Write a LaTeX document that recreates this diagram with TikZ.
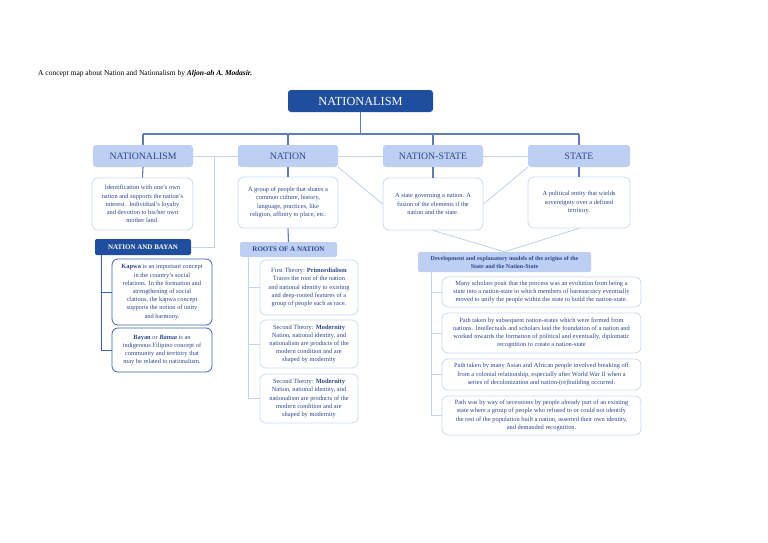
\documentclass[tikz,border=0pt]{standalone}
\usepackage{fontspec}
\setmainfont{Liberation Serif}

\definecolor{deepblue}{RGB}{32,78,158}
\definecolor{paleblue}{RGB}{190,207,244}
\definecolor{inkblue}{RGB}{44,70,135}
\definecolor{edgeblue}{RGB}{205,218,242}
\definecolor{treeblue}{RGB}{92,126,180}
\definecolor{softblue}{RGB}{196,212,238}
\definecolor{midblue}{RGB}{62,98,168}

\begin{document}
\begin{tikzpicture}[x=1pt, y=-1pt,
    topbox/.style={rounded corners=3pt, fill=deepblue, text=white, minimum width=145pt, minimum height=22pt, font=\fontsize{12.3}{14}\selectfont},
    headbox/.style={rounded corners=3pt, fill=paleblue, text=inkblue, minimum width=100pt, minimum height=22pt, font=\fontsize{9.8}{11}\selectfont},
    descbox/.style={rounded corners=6pt, draw=edgeblue, line width=0.8pt, fill=white, text=inkblue, align=center, inner sep=1pt, font=\fontsize{6.4}{8.2}\selectfont},
    subbox/.style={rounded corners=2pt, minimum height=16pt, inner sep=1pt, font=\bfseries\fontsize{7}{8}\selectfont},
    tree/.style={draw=treeblue, line width=1.1pt},
    soft/.style={draw=softblue, line width=0.9pt},
]

    \fill[white] (0,0) rectangle (768,543);
    \useasboundingbox (0,0) rectangle (768,543);

    \node[anchor=base west, inner sep=0, font=\fontsize{7.5}{9}\selectfont] (TTL) at (38,75)
        {A concept map about Nation and Nationalism by \textbf{\textit{Aljon-ah A. Modasir.}}};

    % Top and heads
    \node[topbox] (TOP) at (360.5,101) {NATIONALISM};
    \node[headbox] (NM) at (143,156) {NATIONALISM};
    \node[headbox] (N)  at (288,156) {NATION};
    \node[headbox] (NS) at (433,156) {NATION-STATE};
    \node[headbox, minimum width=102pt] (ST) at (579,156) {STATE};

    % Descriptions
    \node[descbox, minimum width=101pt, minimum height=52pt] (NMD) at (142.5,204)
        {Identification with one's own\\nation and supports the nation's\\interest.\ \ Individual's loyalty\\and devotion to his/her own\\mother land.};
    \node[descbox, minimum width=100pt, minimum height=51pt] (ND) at (288,202.5)
        {A group of people that shares a\\common culture, history,\\language, practices, like\\religion, affinity to place, etc.};
    \node[descbox, minimum width=100pt, minimum height=52pt] (NSD) at (433,204)
        {A state governing a nation. A\\fusion of the elements if the\\nation and the state.};
    \node[descbox, minimum width=102pt, minimum height=51pt] (STD) at (579,202.5)
        {A political entity that wields\\sovereignty over a defined\\territory.};

    % Sub heads
    \node[subbox, fill=deepblue, text=white, minimum width=96pt] (NB) at (143,247) {NATION AND BAYAN};
    \node[subbox, fill=paleblue, text=inkblue, minimum width=97pt, minimum height=15pt] (RN) at (288.5,249.5) {ROOTS OF A NATION};
    \node[subbox, fill=paleblue, text=inkblue, minimum width=173pt, minimum height=20pt, align=center,
        font=\bfseries\fontsize{6}{8}\selectfont] (DEV) at (504.5,262)
        {Development and explanatory models of the origins of the\\State and the Nation-State};

    % Nation and Bayan
    \node[descbox, draw=midblue, minimum width=100pt, minimum height=66pt] (KP) at (162,292)
        {\textbf{Kapwa} is an important concept\\in the country's social\\relations. In the formation and\\strengthening of social\\clations, the kapwa concept\\supports the notion of unity\\and harmony.};
    \node[descbox, draw=midblue, minimum width=100pt, minimum height=44pt] (BY) at (162,350)
        {\textbf{Bayan} or \textbf{\textit{Banua}} is an\\indigenous Filipino concept of\\community and territory that\\may be related to nationalism.};

    % Roots
    \node[descbox, minimum width=98pt, minimum height=55pt] (T1) at (309,287.5)
        {First Theory: \textbf{Primordialism}\\Traces the root of the nation\\and national identity to existing\\and deep-rooted features of a\\group of people such as race.};
    \node[descbox, minimum width=98pt, minimum height=48pt] (T2) at (309,344)
        {Second Theory: \textbf{Modernity}\\Nation, national identity, and\\nationalism are products of the\\modern condition and are\\shaped by modernity};
    \node[descbox, minimum width=98pt, minimum height=49pt] (T3) at (309,398.5)
        {Second Theory: \textbf{Modernity}\\Nation, national identity, and\\nationalism are products of the\\modern condition and are\\shaped by modernity};

    % Paths
    \node[descbox, minimum width=199pt, minimum height=30pt] (P1) at (541.5,292)
        {Many scholars posit that the process was an evolution from being a\\state into a nation-state in which members of bureaucracy eventually\\moved to unify the people within the state to build the nation-state.};
    \node[descbox, minimum width=199pt, minimum height=40pt] (P2) at (541.5,333)
        {Path taken by subsequent nation-states which were formed from\\nations. Intellectuals and scholars laid the foundation of a nation and\\worked towards the formation of political and eventually, diplomatic\\recognition to create a nation-state};
    \node[descbox, minimum width=199pt, minimum height=31pt] (P3) at (541.5,374.5)
        {Path taken by many Asian and African people involved breaking off\\from a colonial relationship, especially after World War II when a\\series of decolonization and nation-(re)building occurred.};
    \node[descbox, minimum width=199pt, minimum height=39pt] (P4) at (541.5,415.5)
        {Path was by way of secessions by people already part of an existing\\state where a group of people who refused to or could not identify\\the rest of the population built a nation, asserted their own identity,\\and demanded recognition.};

    % Tree lines
    \coordinate (BUS) at (0,134);
    \draw[tree] (TOP.south) -- (TOP.south |- BUS);
    \draw[tree] (NM.north |- BUS) -- (ST.north |- BUS);
    \foreach \a/\b in {NM/NMD, N/ND, NS/NSD, ST/STD}
        {
            \draw[tree] (\a.north |- BUS) -- (\a.north);
            \draw[tree] (\a.south) -- (\b.north);
        }
    \draw[tree] (ND.south) -- (RN.north);

    % Cross links
    \draw[soft] (NM.east) -- (N.west);
    \draw[soft] (N.east) -- (NS.west);
    \draw[soft] (NS.east) -- (ST.west);
    \coordinate (LINK) at (214,156);
    \draw[soft] (LINK) |- (NB.east);
    \draw[soft] (N.south east) -- (NSD.west);
    \draw[soft] (ST.south west) -- (NSD.east);
    \draw[soft] (NSD.south) -- (DEV.north);
    \draw[soft] (STD.south) -- (DEV.north);

    % Branches
    \coordinate (NBL) at (101,255);
    \foreach \k in {KP, BY}
        \draw[draw=midblue, line width=1pt] (NBL) |- (\k.west);
    \coordinate (RNL) at (248,257);
    \foreach \t in {T1, T2, T3}
        \draw[soft] (RNL) |- (\t.west);
    \coordinate (DVL) at (431,272);
    \foreach \p in {P1, P2, P3, P4}
        \draw[soft] (DVL) |- (\p.west);

\end{tikzpicture}
\end{document}
